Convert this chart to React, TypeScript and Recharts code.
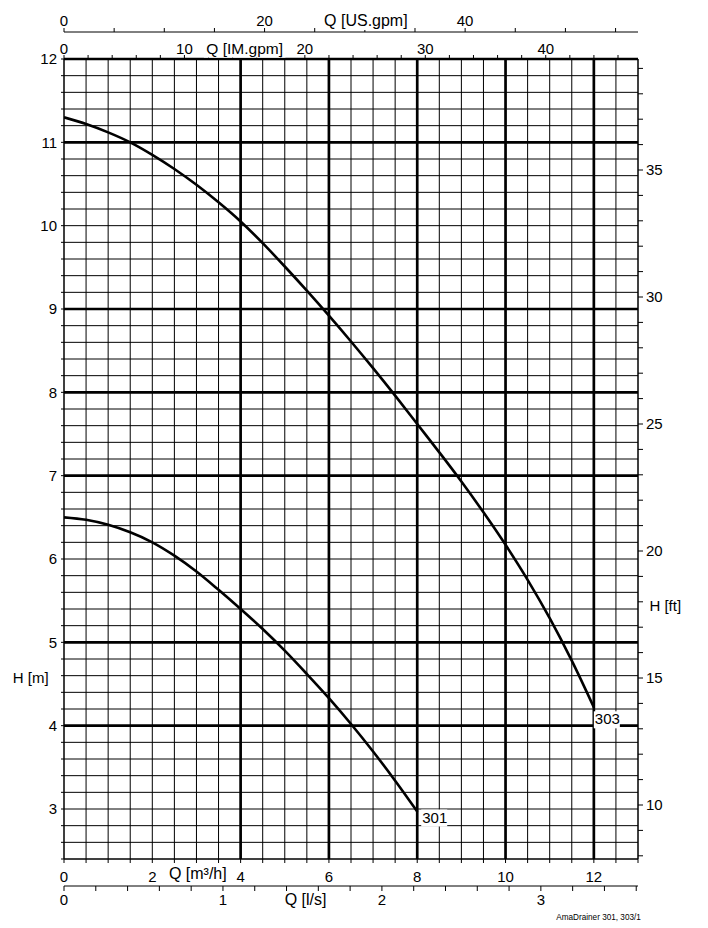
import React from 'react';
import {
  LineChart, Line, XAxis, YAxis, CartesianGrid, ReferenceLine, ReferenceDot,
} from 'recharts';

// Pump curves AmaDrainer 301 / 303, Q [m³/h] against H [m]
const curve303 = [
  { q: 0, h: 11.3 }, { q: 0.5, h: 11.22 }, { q: 1, h: 11.12 }, { q: 1.5, h: 11.0 },
  { q: 2, h: 10.85 }, { q: 2.5, h: 10.68 }, { q: 3, h: 10.49 }, { q: 3.5, h: 10.28 },
  { q: 4, h: 10.05 }, { q: 4.5, h: 9.79 }, { q: 5, h: 9.51 }, { q: 5.5, h: 9.22 },
  { q: 6, h: 8.92 }, { q: 6.5, h: 8.61 }, { q: 7, h: 8.29 }, { q: 7.5, h: 7.96 },
  { q: 8, h: 7.62 }, { q: 8.5, h: 7.28 }, { q: 9, h: 6.93 }, { q: 9.5, h: 6.56 },
  { q: 10, h: 6.17 }, { q: 10.5, h: 5.75 }, { q: 11, h: 5.29 }, { q: 11.5, h: 4.78 },
  { q: 12, h: 4.22 },
];

const curve301 = [
  { q: 0, h: 6.5 }, { q: 0.5, h: 6.47 }, { q: 1, h: 6.41 }, { q: 1.5, h: 6.32 },
  { q: 2, h: 6.2 }, { q: 2.5, h: 6.04 }, { q: 3, h: 5.85 }, { q: 3.5, h: 5.63 },
  { q: 4, h: 5.4 }, { q: 4.5, h: 5.16 }, { q: 5, h: 4.9 }, { q: 5.5, h: 4.62 },
  { q: 6, h: 4.33 }, { q: 6.5, h: 4.02 }, { q: 7, h: 3.69 }, { q: 7.5, h: 3.34 },
  { q: 8, h: 2.97 },
];

// labelled tick values on each scale
const qLabels = [0, 2, 4, 6, 8, 10, 12];
const hLabels = [3, 4, 5, 6, 7, 8, 9, 10, 11, 12];
const ftLabels = [10, 15, 20, 25, 30, 35];
const imLabels = [0, 10, 20, 30, 40];
const usLabels = [0, 20, 40];
const lsLabels = [0, 1, 2, 3];

// bold grid lines
const heavyQ = [4, 6, 8, 10, 12];
const heavyH = [4, 5, 7, 8, 9, 11, 12];

// unit conversions
const M3H_PER_IMGPM = 0.272765;
const M3H_PER_USGPM = 0.227125;
const M3H_PER_LS = 3.6;
const M_PER_FT = 0.3048;

const Q_MAX = 13;
const H_MIN = 2.4;
const H_MAX = 12;

const range = (start: number, end: number, step: number) =>
  Array.from({ length: Math.floor((end - start) / step + 1e-6) + 1 }, (_, i) => +(start + i * step).toFixed(4));

const qTicks = range(0, Q_MAX, 0.5);
const hTicks = range(H_MIN, H_MAX, 0.2);
const ftTicks = range(8, 39, 1);
const imTicks = range(0, 46, 2);
const usTicks = range(0, 55, 5);
const lsTicks = range(0, 3.6, 0.2);

const fmt = (labels: number[]) => (v: number) => (labels.includes(+(+v).toFixed(4)) ? String(+(+v).toFixed(4)) : '');

const FONT = '"Liberation Sans", Arial, sans-serif';
const tickStyle = { fill: '#000', fontSize: 15 };

const axisText = (
  text: string, fx: number, fy: number,
  anchor: 'start' | 'middle' | 'end' = 'middle', size = 16, boxBottom = 0,
) => (props: any) => {
  const vb = props.viewBox || {};
  const x = vb.x + vb.width * fx;
  const y = vb.y + vb.height * fy;
  const w = text.length * size * 0.5;
  return (
    <g>
      {boxBottom > 0 && <rect x={x - w / 2 - 2} y={y - size + 2} width={w + 4} height={size - 2 + boxBottom} fill="#fff" />}
      <text x={x} y={y} fontSize={size} fill="#000" textAnchor={anchor} fontFamily={FONT}>{text}</text>
    </g>
  );
};

const curveLabel = (text: string, dx: number, dy: number) => (props: any) => {
  const vb = props.viewBox || {};
  const x = vb.x + (vb.width || 0) / 2 + dx;
  const y = vb.y + (vb.height || 0) / 2 + dy;
  return (
    <g>
      <rect x={x - 1} y={y - 13} width={26} height={17} fill="#fff" />
      <text x={x} y={y} fontSize={15} fill="#000" fontFamily={FONT}>{text}</text>
    </g>
  );
};

const end303 = curve303[curve303.length - 1];
const end301 = curve301[curve301.length - 1];

// secondary flow scales read the same points, converted
const toLs = (d: any) => d.q / M3H_PER_LS;
const toIm = (d: any) => d.q / M3H_PER_IMGPM;
const toUs = (d: any) => d.q / M3H_PER_USGPM;

export default function App() {
  return (
    <div style={{ position: 'absolute', left: 0, top: 0, width: 708, height: 928, background: '#fff', fontFamily: FONT }}>
      <LineChart width={708} height={928} margin={{ top: 2, right: 0, bottom: 0, left: 0 }}>
        <CartesianGrid xAxisId="a_q" yAxisId="m" stroke="#000" strokeWidth={1} verticalValues={qTicks} horizontalValues={hTicks} />

        <XAxis
          xAxisId="a_q" type="number" dataKey="q" domain={[0, Q_MAX]} allowDataOverflow ticks={qTicks} interval={0}
          orientation="bottom" height={27} stroke="#000" tick={tickStyle} tickSize={4} tickMargin={8}
          tickFormatter={fmt(qLabels)}
          label={axisText('Q [m³/h]', 3.03 / Q_MAX, 0.74)}
        />
        <XAxis
          xAxisId="b_ls" type="number" dataKey={toLs} domain={[0, Q_MAX / M3H_PER_LS]} allowDataOverflow ticks={lsTicks} interval={0}
          orientation="bottom" height={42} stroke="#000" tick={tickStyle} tickSize={5} tickMargin={3}
          tickFormatter={fmt(lsLabels)}
          label={(p: any) => (
            <g>
              {axisText('Q [l/s]', 1.52 / (Q_MAX / M3H_PER_LS), 0.45)(p)}
              {axisText('AmaDrainer 301, 303/1', 1.005, 0.8, 'end', 8.2)(p)}
            </g>
          )}
        />
        <XAxis
          xAxisId="c_im" type="number" dataKey={toIm} domain={[0, Q_MAX / M3H_PER_IMGPM]} allowDataOverflow ticks={imTicks} interval={0}
          orientation="top" height={27} stroke="#000" tick={tickStyle} tickSize={4} tickMargin={1}
          tickFormatter={fmt(imLabels)}
          label={axisText('Q [IM.gpm]', 15 / (Q_MAX / M3H_PER_IMGPM), 0.8, 'middle', 15.5, 4)}
        />
        <XAxis
          xAxisId="d_us" type="number" dataKey={toUs} domain={[0, Q_MAX / M3H_PER_USGPM]} allowDataOverflow ticks={usTicks} interval={0}
          orientation="top" height={30} stroke="#000" tick={tickStyle} tickSize={4} tickMargin={2}
          tickFormatter={fmt(usLabels)}
          label={axisText('Q [US.gpm]', 30.1 / (Q_MAX / M3H_PER_USGPM), 0.8, 'middle', 16, 4)}
        />

        <YAxis
          yAxisId="m" type="number" domain={[H_MIN, H_MAX]} allowDataOverflow ticks={hTicks} interval={0}
          orientation="left" width={64} stroke="#000" tick={tickStyle} tickSize={3} tickMargin={4}
          tickFormatter={fmt(hLabels)}
          label={axisText('H [m]', 0.48, 0.78, 'middle', 15)}
        />
        <YAxis
          yAxisId="ft" type="number" domain={[H_MIN / M_PER_FT, H_MAX / M_PER_FT]} allowDataOverflow ticks={ftTicks} interval={0}
          orientation="right" width={70} stroke="#000" tick={tickStyle} tickSize={5} tickMargin={3}
          tickFormatter={fmt(ftLabels)}
          label={axisText('H [ft]', 0.39, 0.69, 'middle', 15)}
        />

        {heavyQ.map((v) => (
          <ReferenceLine key={`vq-${v}`} xAxisId="a_q" yAxisId="m" x={v} stroke="#000" strokeWidth={2.7} />
        ))}
        {heavyH.map((v) => (
          <ReferenceLine key={`hh-${v}`} xAxisId="a_q" yAxisId="m" y={v} stroke="#000" strokeWidth={2.7} />
        ))}

        {/* invisible copies so the secondary flow scales get their ticks */}
        {['b_ls', 'c_im', 'd_us'].map((id) => (
          <Line
            key={id} xAxisId={id} yAxisId="m" data={curve303} dataKey="h" type="monotone"
            stroke="#000" strokeOpacity={0} dot={false} activeDot={false} isAnimationActive={false}
          />
        ))}

        <Line
          xAxisId="a_q" yAxisId="m" data={curve303} dataKey="h" type="monotone"
          stroke="#000" strokeWidth={2.6} dot={false} isAnimationActive={false}
        />
        <Line
          xAxisId="a_q" yAxisId="m" data={curve301} dataKey="h" type="monotone"
          stroke="#000" strokeWidth={2.6} dot={false} isAnimationActive={false}
        />

        <ReferenceDot xAxisId="a_q" yAxisId="m" x={end303.q} y={end303.h} r={1} fill="#000" stroke="none" label={curveLabel('303', 1, 17)} />
        <ReferenceDot xAxisId="a_q" yAxisId="m" x={end301.q} y={end301.h} r={1} fill="#000" stroke="none" label={curveLabel('301', 5, 11)} />
      </LineChart>
    </div>
  );
}
